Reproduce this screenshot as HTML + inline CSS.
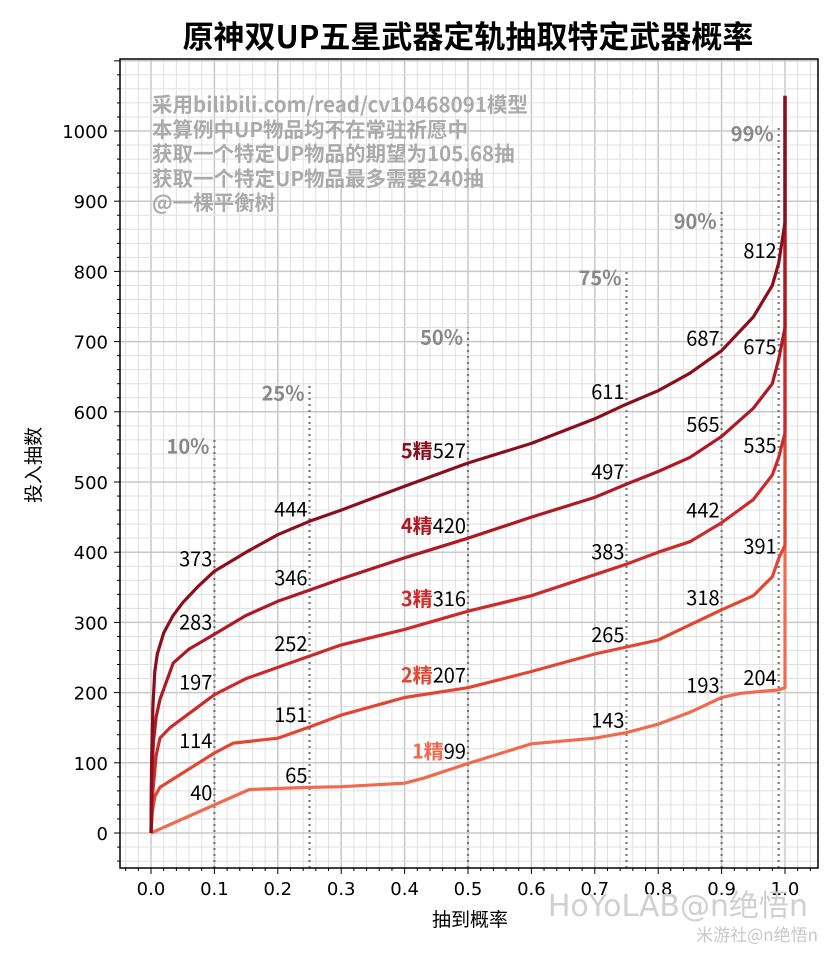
<!DOCTYPE html>
<html><head><meta charset="utf-8">
<style>
html,body{margin:0;padding:0;background:#fff;}
svg{display:block;font-family:"Noto Sans CJK SC","Liberation Sans",sans-serif;}
</style></head>
<body>
<svg id="chart" width="839" height="955" viewBox="0 0 839 955" xmlns="http://www.w3.org/2000/svg">
<text x="468" y="48" text-anchor="middle" font-size="31" font-weight="bold">原神双UP五星武器定轨抽取特定武器概率</text>
<g id="grid"></g>
<g id="guides"></g>
<g id="series"></g>
<g id="labels"></g>
<g id="axes"></g>
<g fill="#aaaaaa" font-size="20.5" font-weight="bold">
<text x="152" y="112">采用bilibili.com/read/cv10468091模型</text>
<text x="152" y="137">本算例中UP物品均不在常驻祈愿中</text>
<text x="152" y="161">获取一个特定UP物品的期望为105.68抽</text>
<text x="152" y="186">获取一个特定UP物品最多需要240抽</text>
<text x="152" y="210">@一棵平衡树</text>
</g>
<text transform="translate(40,465) rotate(-90)" text-anchor="middle" font-size="19">投入抽数</text>
<text x="470" y="926" text-anchor="middle" font-size="19">抽到概率</text>
<text x="808" y="916" text-anchor="end" font-size="30" fill="#d0d0d0" font-family="DejaVu Sans, Noto Sans CJK SC, sans-serif">HoYoLAB@n绝悟n</text>
<text x="818" y="941" text-anchor="end" font-size="17" fill="#c8c8c8">米游社@n绝悟n</text>
</svg>
<script>
const xs1=[0,0.1,0.155,0.25,0.3,0.4,0.43,0.5,0.6,0.7,0.75,0.8,0.85,0.9,0.93,0.99,1.0,1.0];
const ys1=[0,40,62,65,66,71,78,99,127,135,143,155,172,193,199,204,207,1050];
const xs2=[0,0.002,0.006,0.014,0.1,0.13,0.2,0.25,0.3,0.4,0.5,0.6,0.7,0.75,0.8,0.9,0.95,0.98,0.99,1.0,1.0];
const ys2=[0,30,52,65,114,128,135,151,168,193,207,230,255,265,275,318,338,365,391,410,1050];
const xs3=[0,0.003,0.008,0.014,0.03,0.1,0.15,0.25,0.3,0.4,0.5,0.6,0.7,0.75,0.8,0.85,0.9,0.95,0.98,0.99,1.0,1.0];
const ys3=[0,60,110,135,150,197,220,252,268,290,316,338,368,383,400,415,442,475,510,535,570,1050];
const xs4=[0,0.001,0.004,0.008,0.014,0.035,0.06,0.1,0.15,0.2,0.25,0.3,0.4,0.5,0.6,0.7,0.75,0.8,0.85,0.9,0.95,0.98,0.99,1.0,1.0];
const ys4=[0,80,130,165,190,242,262,283,310,330,346,362,392,420,450,478,497,515,535,565,605,640,675,720,1050];
const xs5=[0,0.001,0.003,0.006,0.01,0.02,0.035,0.05,0.075,0.1,0.15,0.2,0.25,0.3,0.4,0.5,0.6,0.7,0.75,0.8,0.85,0.9,0.95,0.98,0.99,1.0,1.0];
const ys5=[0,100,180,230,255,285,310,328,352,373,400,425,444,460,494,527,555,590,611,630,655,687,735,780,812,870,1050];
const seriesNames=["1精","2精","3精","4精","5精"];
const seriesColors=["#ef6a4e","#e04632","#cc2b2b","#ad1a24","#8a0f1d"];
const quantiles=[0.1,0.25,0.5,0.75,0.9,0.99];
const quantileLabels=["10%","25%","50%","75%","90%","99%"];
const guideTops=[565,640,720,805,885,1010];
const labelVals=[[40,65,99,143,193,204],[114,151,207,265,318,391],[197,252,316,383,442,535],[283,346,420,497,565,675],[373,444,527,611,687,812]];
const xTicks=[0,0.1,0.2,0.3,0.4,0.5,0.6,0.7,0.8,0.9,1.0];
const xTickLabels=["0.0","0.1","0.2","0.3","0.4","0.5","0.6","0.7","0.8","0.9","1.0"];
const yTicks=[0,100,200,300,400,500,600,700,800,900,1000];

const L=120,R=818,T=59,B=868;
const X=v=>151+v*634;
const Y=v=>833-v*0.702;
const NS="http://www.w3.org/2000/svg";
function mk(tag,attrs,parent){const e=document.createElementNS(NS,tag);for(const k in attrs)e.setAttribute(k,attrs[k]);parent.appendChild(e);return e;}
const grid=document.getElementById('grid'),guides=document.getElementById('guides'),ser=document.getElementById('series'),lab=document.getElementById('labels'),axes=document.getElementById('axes');

for(let i=-2;i<=52;i++){const v=i*0.02;const x=X(v);if(x<L||x>R)continue;
 const major=i%5===0;
 const ln=mk('line',{x1:x,x2:x,y1:T,y2:B,stroke:major?'#c8c8c8':'#e0e0e0','stroke-width':major?1.5:1},grid);
 
 
 const tk=mk('line',{x1:x,x2:x,y1:B,y2:B+(major?6:3),stroke:'#000','stroke-width':1},axes);
 
 
}
for(let i=-3;i<=56;i++){const v=i*20;const y=Y(v);if(y<T||y>B)continue;
 const major=i%5===0;
 const ln=mk('line',{x1:L,x2:R,y1:y,y2:y,stroke:major?'#c8c8c8':'#e0e0e0','stroke-width':major?1.5:1},grid);
 
 
 const tk=mk('line',{x1:L-(major?6:3),x2:L,y1:y,y2:y,stroke:'#000','stroke-width':1},axes);
 
 
}
const fr=mk('rect',{x:L,y:T,width:R-L,height:B-T,fill:'none',stroke:'#000','stroke-width':1.5},axes);


xTicks.forEach((v,i)=>{const t=mk('text',{x:X(v),y:895,'text-anchor':'middle','font-size':18,'font-family':'DejaVu Sans, sans-serif'},axes);t.textContent=xTickLabels[i];
 
 });
yTicks.forEach(v=>{const t=mk('text',{x:108,y:Y(v)+7,'text-anchor':'end','font-size':18,'font-family':'DejaVu Sans, sans-serif'},axes);t.textContent=String(v);
 
 });

quantiles.forEach((q,i)=>{const x=X(q);
 const ln=mk('line',{x1:x,x2:x,y1:B,y2:Y(guideTops[i]),stroke:'#777','stroke-width':2.2,'stroke-dasharray':'2 4'},guides);
 
 
 const t=mk('text',{x:x-5,y:Y(guideTops[i])+17,'text-anchor':'end','font-size':20,'font-weight':'bold',fill:'#888'},guides);
 t.textContent=quantileLabels[i];
 
 
});

const XS=[xs1,xs2,xs3,xs4,xs5],YS=[ys1,ys2,ys3,ys4,ys5];
XS.forEach((xs,s)=>{const pts=xs.map((x,i)=>X(x).toFixed(1)+','+Y(YS[s][i]).toFixed(1)).join(' ');
 const pl=mk('polyline',{points:pts,fill:'none',stroke:seriesColors[s],'stroke-width':3.2,'stroke-linejoin':'round'},ser);
 
 
});

labelVals.forEach((vals,s)=>{vals.forEach((v,i)=>{const x=X(quantiles[i])-2,y=Y(v)-5;
 const t=mk('text',{x:x,y:y,'text-anchor':'end','font-size':20},lab);
 
 
 if(quantiles[i]===0.5){const n=mk('tspan',{'font-weight':'bold',fill:seriesColors[s]},t);n.textContent=seriesNames[s];
  
  }
 const vv=mk('tspan',{},t);vv.textContent=String(v);
});});
</script>
</body></html>
